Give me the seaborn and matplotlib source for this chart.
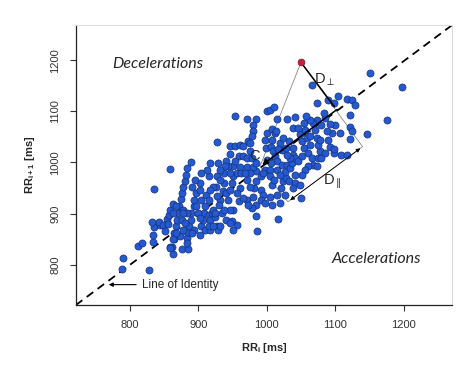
import numpy as np
import pandas as pd
import matplotlib
matplotlib.use('Agg')
import matplotlib.pyplot as plt
import seaborn as sns

# RR intervals (ms)
rr_i = [788, 790, 828, 812, 818, 834, 834, 835, 844, 833, 842, 835, 849, 854, 857, 859, 863, 864,
        862, 859, 863, 864, 867, 869, 871, 872, 874, 876, 878, 880, 882, 884, 890, 859, 876, 885,
        883, 884, 887, 889, 890, 893, 894, 896, 873, 877, 868, 878, 883, 893, 902, 904, 907, 908,
        910, 904, 902, 903, 911, 915, 916, 917, 920, 922, 924, 927, 929, 932, 934, 932, 928, 926,
        928, 929, 927, 937, 938, 936, 941, 944, 946, 949, 951, 951, 954, 946, 947, 954, 961, 966,
        973, 953, 971, 984, 980, 980, 978, 975, 976, 959, 966, 971, 961, 971, 956, 963, 971, 961,
        956, 960, 971, 980, 984, 981, 976, 985, 992, 995, 951, 946, 956, 949, 950, 985, 986, 1017,
        992, 997, 1000, 999, 998, 1000, 1000, 1005, 1011, 1015, 1007, 1012, 1007, 1006, 1009, 1012,
        1015, 1006, 1005, 1005, 1007, 1005, 1007, 1020, 1015, 1021, 1027, 1024, 1028, 1032, 1027,
        1022, 1029, 1034, 1037, 1041, 1039, 1050, 1022, 1020, 1024, 1029, 1039, 1041, 1039, 1038,
        1042, 1046, 1051, 1054, 1051, 1049, 1046, 1054, 1056, 1059, 1063, 1061, 1066, 1068, 1073,
        1075, 1078, 1075, 1073, 1071, 1073, 1080, 1085, 1083, 1073, 1090, 1098, 1104, 1066, 1117,
        1124, 1129, 1121, 1122, 1124, 1107, 1108, 1117, 1098, 1093, 1090, 1095, 1100, 1093, 1146,
        1176, 1151, 1197, 1122, 1098, 1085, 1080, 1078, 1068, 1063, 1058, 1088, 1063, 1061, 1056,
        1051, 1049, 1041, 1034, 1029, 1028, 1032, 1017, 1013, 1015, 1019, 1011, 995, 985, 980, 978,
        976, 968, 985, 992, 997, 978, 973, 966, 946, 944, 941, 939, 932, 932, 922, 917, 915, 917,
        912, 904, 895, 891, 897, 900, 902, 910, 917, 915, 922, 924, 930, 937, 941, 946, 876, 880,
        883, 891, 877, 868, 863, 856, 851, 863, 858]
rr_next = [792, 814, 789, 836, 842, 844, 858, 874, 877, 884, 884, 948, 877, 889, 898, 907, 919, 862,
           835, 835, 820, 850, 875, 888, 901, 914, 928, 941, 953, 963, 976, 989, 1000, 987, 830, 830,
           853, 864, 875, 888, 901, 914, 927, 940, 856, 868, 862, 907, 901, 868, 858, 875, 888, 901,
           914, 927, 946, 960, 937, 927, 898, 888, 901, 907, 894, 875, 868, 875, 901, 927, 934, 953,
           973, 999, 1040, 980, 960, 944, 940, 927, 946, 960, 973, 993, 1003, 1016, 1033, 1033, 1035, 1032,
           1042, 1090, 1086, 1086, 1074, 1061, 1051, 1038, 1022, 1012, 1012, 1009, 992, 992, 980, 980, 966, 950,
           940, 924, 927, 933, 917, 950, 953, 963, 947, 937, 907, 907, 878, 885, 868, 896, 865, 889,
           973, 986, 1005, 1028, 1044, 1057, 1100, 1103, 1108, 1086, 1066, 1057, 1044, 1031, 1022, 1012,
           1002, 999, 986, 973, 956, 933, 917, 920, 936, 950, 936, 963, 969, 963, 982,
           995, 995, 989, 999, 960, 950, 930, 1025, 1038, 1048, 1086, 1067, 1089, 1029, 1015,
           1009, 1003, 1013, 1029, 1042, 1055, 1067, 1077, 1064, 1048, 1034, 1018, 1009, 996, 993,
           1009, 1022, 1035, 1048, 1064, 1083, 1074, 1087, 1097, 1116, 1123, 1116, 1131, 1152, 1125,
           1122, 1113, 1093, 1070, 1061, 1057, 1015, 1015, 1018, 1031, 1044, 1057, 1073, 1076, 1055,
           1083, 1175, 1147, 1046, 1026, 1018, 1009, 1044, 1077, 1083, 1090, 1061, 1051, 993, 986,
           976, 956, 976, 1009, 1015, 1029, 1042, 1027, 1062, 986, 976, 966, 980, 983, 992, 1009,
           980, 980, 999, 927, 920, 910, 917, 930, 980, 993, 1003, 993, 986, 966, 953, 946, 973,
           999, 986, 980, 966, 953, 914, 901, 891, 868, 868, 875, 875, 901, 917, 907, 888, 881, 888, 881,
           843, 862, 901, 914, 901, 879, 866, 850, 833]

point_x, point_y = 1050, 1196
center_x, center_y = 990, 992
corner_x = [1050, 1140, 1031, 990]
corner_y = [1196, 1031, 923, 992]

df = pd.DataFrame({'rr_i': rr_i, 'rr_next': rr_next})

sns.set_style('ticks')
plt.rcParams['font.family'] = ['Liberation Sans', 'DejaVu Sans']

fig = plt.figure(figsize=(4.74, 3.68), dpi=100)
ax = fig.add_axes([0.160, 0.171, 0.794, 0.761])

lo_x, hi_x = 721, 1271
lo_y, hi_y = 721, 1269
ax.set_xlim(lo_x, hi_x)
ax.set_ylim(lo_y, hi_y)

# line of identity
ax.plot([lo_x, hi_x], [lo_y, hi_y], ls=(0, (4.5, 3)), color='black', lw=1.3, zorder=1)

sns.scatterplot(data=df, x='rr_i', y='rr_next', ax=ax, s=26, color='#2459cf',
                edgecolor='#15307a', linewidth=0.5, zorder=3, legend=False)

# SD1 / SD2 construction
ax.plot(corner_x + corner_x[:1], corner_y + corner_y[:1], color='#888888', lw=0.6, zorder=2)
ax.plot([point_x, 1099], [point_y, 1109], color='black', lw=1.1, zorder=4)
ax.annotate('', xy=(center_x, center_y), xytext=(1106, 1107),
            arrowprops=dict(arrowstyle='-|>', color='black', lw=1.1, mutation_scale=8), zorder=4)
ax.annotate('', xy=(1031, 923), xytext=(1140, 1031),
            arrowprops=dict(arrowstyle='<|-|>', color='black', lw=0.6, mutation_scale=6), zorder=4)
ax.scatter([point_x], [point_y], s=24, color='#c8203f', edgecolor='#7a1020', lw=0.5, zorder=5)

ax.text(982, 1013, 'C', fontsize=10.5, ha='center', va='center', zorder=6)
ax.text(1069, 1163, r'D$_{\perp}$', fontsize=10.5, ha='left', va='center', zorder=6)
ax.text(1082, 962, r'D$_{\parallel}$', fontsize=10.5, ha='left', va='center', zorder=6)

ax.text(774, 1192, 'Decelerations', fontsize=11.5, style='italic', family='Lato',
        ha='left', va='center')
ax.text(1226, 812, 'Accelerations', fontsize=11.5, style='italic', family='Lato',
        ha='right', va='center')
ax.annotate('Line of Identity', xy=(765, 761), xytext=(818, 761), fontsize=8.5,
            va='center', ha='left',
            arrowprops=dict(arrowstyle='-|>', color='black', lw=0.8, mutation_scale=6))

ax.set_xticks([800, 900, 1000, 1100, 1200])
ax.set_yticks([800, 900, 1000, 1100, 1200])
ax.tick_params(axis='both', labelsize=8, length=4, width=0.8, colors='#333333', pad=7)
for lbl in ax.get_yticklabels():
    lbl.set_rotation(90)
    lbl.set_va('center')

ax.set_xlabel(r'RR$_{\mathregular{i}}$ [ms]', fontsize=8, fontweight='bold', labelpad=8)
ax.set_ylabel(r'RR$_{\mathregular{i+1}}$ [ms]', fontsize=8, fontweight='bold', labelpad=10)

for side in ['left', 'bottom']:
    ax.spines[side].set_color('#222222')
    ax.spines[side].set_linewidth(0.9)
for side in ['top', 'right']:
    ax.spines[side].set_visible(True)
    ax.spines[side].set_color('#dddddd')
    ax.spines[side].set_linewidth(0.8)

fig.savefig('out.png', dpi=100)
